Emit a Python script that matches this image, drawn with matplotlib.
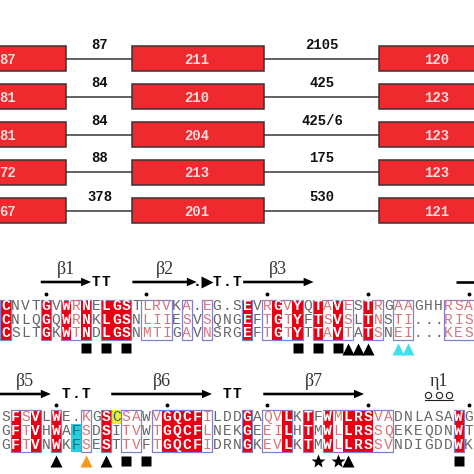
import matplotlib
matplotlib.use('Agg')
import matplotlib.pyplot as plt
from matplotlib.patches import Rectangle

# gene structure: exon and intron lengths
exon_left = ['87', '81', '81', '72', '67']
intron_a = ['87', '84', '84', '88', '378']
exon_mid = ['211', '210', '204', '213', '201']
intron_b = ['2105', '425', '425/6', '175', '530']
exon_right = ['120', '123', '123', '123', '121']

# alignment, two blocks of three sequences
block1_seqs = [
    'CNVTGVWRNELGSTLRVKA.EG.SEVRGVYQTAVESTRGAAGHHRSA',
    'CNLQGQWRNKLGSNLIIESVSQNGEFTGTYFTSVSLTNSTI...RIS',
    'CSLTGKWTNDLGSNMTIGAVNSRGEFTGTYTTAVTATSNEI...KES',
]
block2_seqs = [
    'SFSVLWE.KGSCSAWVGQCFILDDGAQVLKTFWMLRSVADNLASAWG',
    'GFTVHWAFSDSITVWTGQCFLNEKGEEILHTMWLLRSSQEKEQDNWT',
    'GFTVNWKFSESTTVFTGQCFIDRNGKEVLKTMWLLRSSVNDIGDDWK',
]
block1_red = [0, 4, 6, 8, 10, 11, 12, 24, 27, 29, 31, 33, 36]
block1_boxes = [(0, 0), (4, 4), (6, 8), (10, 12), (14, 16), (18, 18), (20, 20), (24, 24),
                (26, 29), (31, 34), (36, 37), (39, 40), (44, 47)]
block2_red = [1, 3, 5, 10, 16, 17, 18, 19, 24, 28, 30, 32, 34, 35, 36, 45]
block2_boxes = [(1, 3), (5, 5), (8, 8), (10, 10), (12, 13), (15, 20), (24, 24),
                (26, 28), (30, 30), (32, 38), (45, 45)]

# secondary structure, in alignment columns
block1_arrows = [(3.5, 8.5, 'β1'), (12.6, 19.0, 'β2'), (23.6, 30.6, 'β3')]
block1_turns = [(9, 'T'), (10, 'T'), (19, '.'), (21, 'T'), (22, '.'), (23, 'T')]
block1_dots = [4, 14, 26, 36, 46]
block1_squares = [8, 10, 12, 29, 31, 33]
block1_triangles = [34, 35, 36]
block1_cyan = [39, 40]

block2_arrows = [(-0.6, 4.5, 'β5'), (10.5, 20.5, 'β6'), (25.6, 35.6, 'β7')]
block2_turns = [(6, 'T'), (7, '.'), (8, 'T'), (22, 'T'), (23, 'T')]
block2_dots = [5, 16, 26, 36, 46]
block2_squares = [12, 14, 45]
block2_triangles = [5, 10, 34]
block2_orange = [8]
block2_stars = [31, 33]
helix_cols = [42, 43, 44]

RED = '#e60012'
BOX = '#8080cc'
MONO = 'Liberation Mono'
PITCH = 10.07


def col_x(i):
    return 5.5 + PITCH * i


def draw_block(ax, seqs, red, boxes, top, row_h, highlight):
    boxed = set()
    for a, b in boxes:
        boxed.update(range(a, b + 1))
    height = row_h * 3
    for c in red:
        ax.add_patch(Rectangle((col_x(c) - PITCH / 2, top), PITCH, height, fc=RED, ec='none', zorder=1))
    for (c, r), color in highlight.items():
        ax.add_patch(Rectangle((col_x(c) - PITCH / 2, top + r * row_h), PITCH, row_h, fc=color, ec='none', zorder=1))
    for a, b in boxes:
        ax.add_patch(Rectangle((col_x(a) - PITCH / 2, top), PITCH * (b - a + 1), height,
                               fc='none', ec=BOX, lw=0.9, zorder=2))
    for r, seq in enumerate(seqs):
        y = top + row_h * (r + 0.5)
        for c, ch in enumerate(seq):
            if c in red:
                color, weight = 'white', 'bold'
            elif (c, r) in highlight:
                color, weight = '#1a6a80', 'normal'
            elif c in boxed:
                color, weight = '#d9757a', 'normal'
            else:
                color, weight = '#666666', 'normal'
            ax.text(col_x(c), y, ch, family=MONO, fontsize=10.5, color=color, weight=weight,
                    ha='center', va='center', zorder=3)


def draw_structure(ax, arrows, turns, dots, arrow_y, label_y, dot_y):
    for a, b, name in arrows:
        ax.arrow(col_x(a), arrow_y, col_x(b) - col_x(a), 0, width=2.6, head_width=8.5, head_length=10,
                 length_includes_head=True, fc='black', ec='black', lw=0, zorder=3)
        ax.text((col_x(a) + col_x(b)) / 2, label_y, name, family='Liberation Serif', fontsize=13,
                color='#333333', ha='center', va='center')
    for c, ch in turns:
        ax.text(col_x(c), arrow_y, ch, family=MONO, fontsize=10.5, weight='bold', color='black',
                ha='center', va='center')
    ax.plot([col_x(c) for c in dots], [dot_y] * len(dots), 'o', ms=1.8, color='black')


def draw_marks(ax, cols, y, marker, color, size):
    ax.plot([col_x(c) for c in cols], [y] * len(cols), marker, ms=size, color=color, mec='none', ls='none')


fig = plt.figure(figsize=(4.74, 4.74), dpi=100)
ax = fig.add_axes([0, 0, 1, 1])
ax.set_xlim(0, 474)
ax.set_ylim(474, 0)
ax.axis('off')

# gene structure rows
row_tops = [46, 84, 122, 159.5, 198]
for i, top in enumerate(row_tops):
    mid = top + 12.5
    ax.plot([66, 379], [mid, mid], color='#555555', lw=1.3, zorder=1)
    for x0, x1, label, tx in [(-5, 66, exon_left[i], 8), (132, 264, exon_mid[i], 197), (379, 480, exon_right[i], 437)]:
        ax.add_patch(Rectangle((x0, top), x1 - x0, 25, fc='#ee2a2e', ec='#3c3033', lw=1.1, zorder=2))
        ax.text(tx, mid + 1, label, family=MONO, fontsize=10, weight='bold', color='#f8dcdc',
                ha='center', va='center', zorder=3)
    ax.text(100, mid - 13.5, intron_a[i], family=MONO, fontsize=10, weight='bold', color='#111111',
            ha='center', va='center')
    ax.text(322, mid - 13.5, intron_b[i], family=MONO, fontsize=10, weight='bold', color='#111111',
            ha='center', va='center')

# block 1
draw_block(ax, block1_seqs, block1_red, block1_boxes, 299.5, 13.4, {})
draw_structure(ax, block1_arrows, block1_turns, block1_dots, 282, 269, 293.7)
ax.plot(col_x(20), 282, '>', ms=9, color='black', mec='none')
ax.plot([col_x(44.7), 474], [282, 282], color='black', lw=1.9, solid_capstyle='butt')
draw_marks(ax, block1_squares, 347.5, 's', 'black', 7.5)
draw_marks(ax, block1_triangles, 349, '^', 'black', 8)
draw_marks(ax, block1_cyan, 349, '^', '#3fe0e8', 8)

# block 2
draw_block(ax, block2_seqs, block2_red, block2_boxes, 410, 13.9,
           {(11, 0): '#f5ee30', (7, 1): '#25cfe0', (7, 2): '#25cfe0'})
draw_structure(ax, block2_arrows, block2_turns, block2_dots, 394, 381, 405)
draw_marks(ax, block2_squares, 460.7, 's', 'black', 7.5)
draw_marks(ax, block2_triangles, 461, '^', 'black', 8)
draw_marks(ax, block2_orange, 461, '^', '#f39a1e', 8)
draw_marks(ax, block2_stars, 461, '*', 'black', 10)

# eta helix
ax.plot([col_x(c) for c in helix_cols], [395] * len(helix_cols), 'o', ms=4.5, mfc='none', mec='#222222', mew=0.8)
ax.plot([col_x(41.7), col_x(44.4)], [400, 400], color='#222222', lw=0.8)
ax.text(col_x(43), 381, 'η1', family='Liberation Serif', fontsize=13, color='#333333',
        ha='center', va='center')

fig.savefig('out.png', dpi=100)
